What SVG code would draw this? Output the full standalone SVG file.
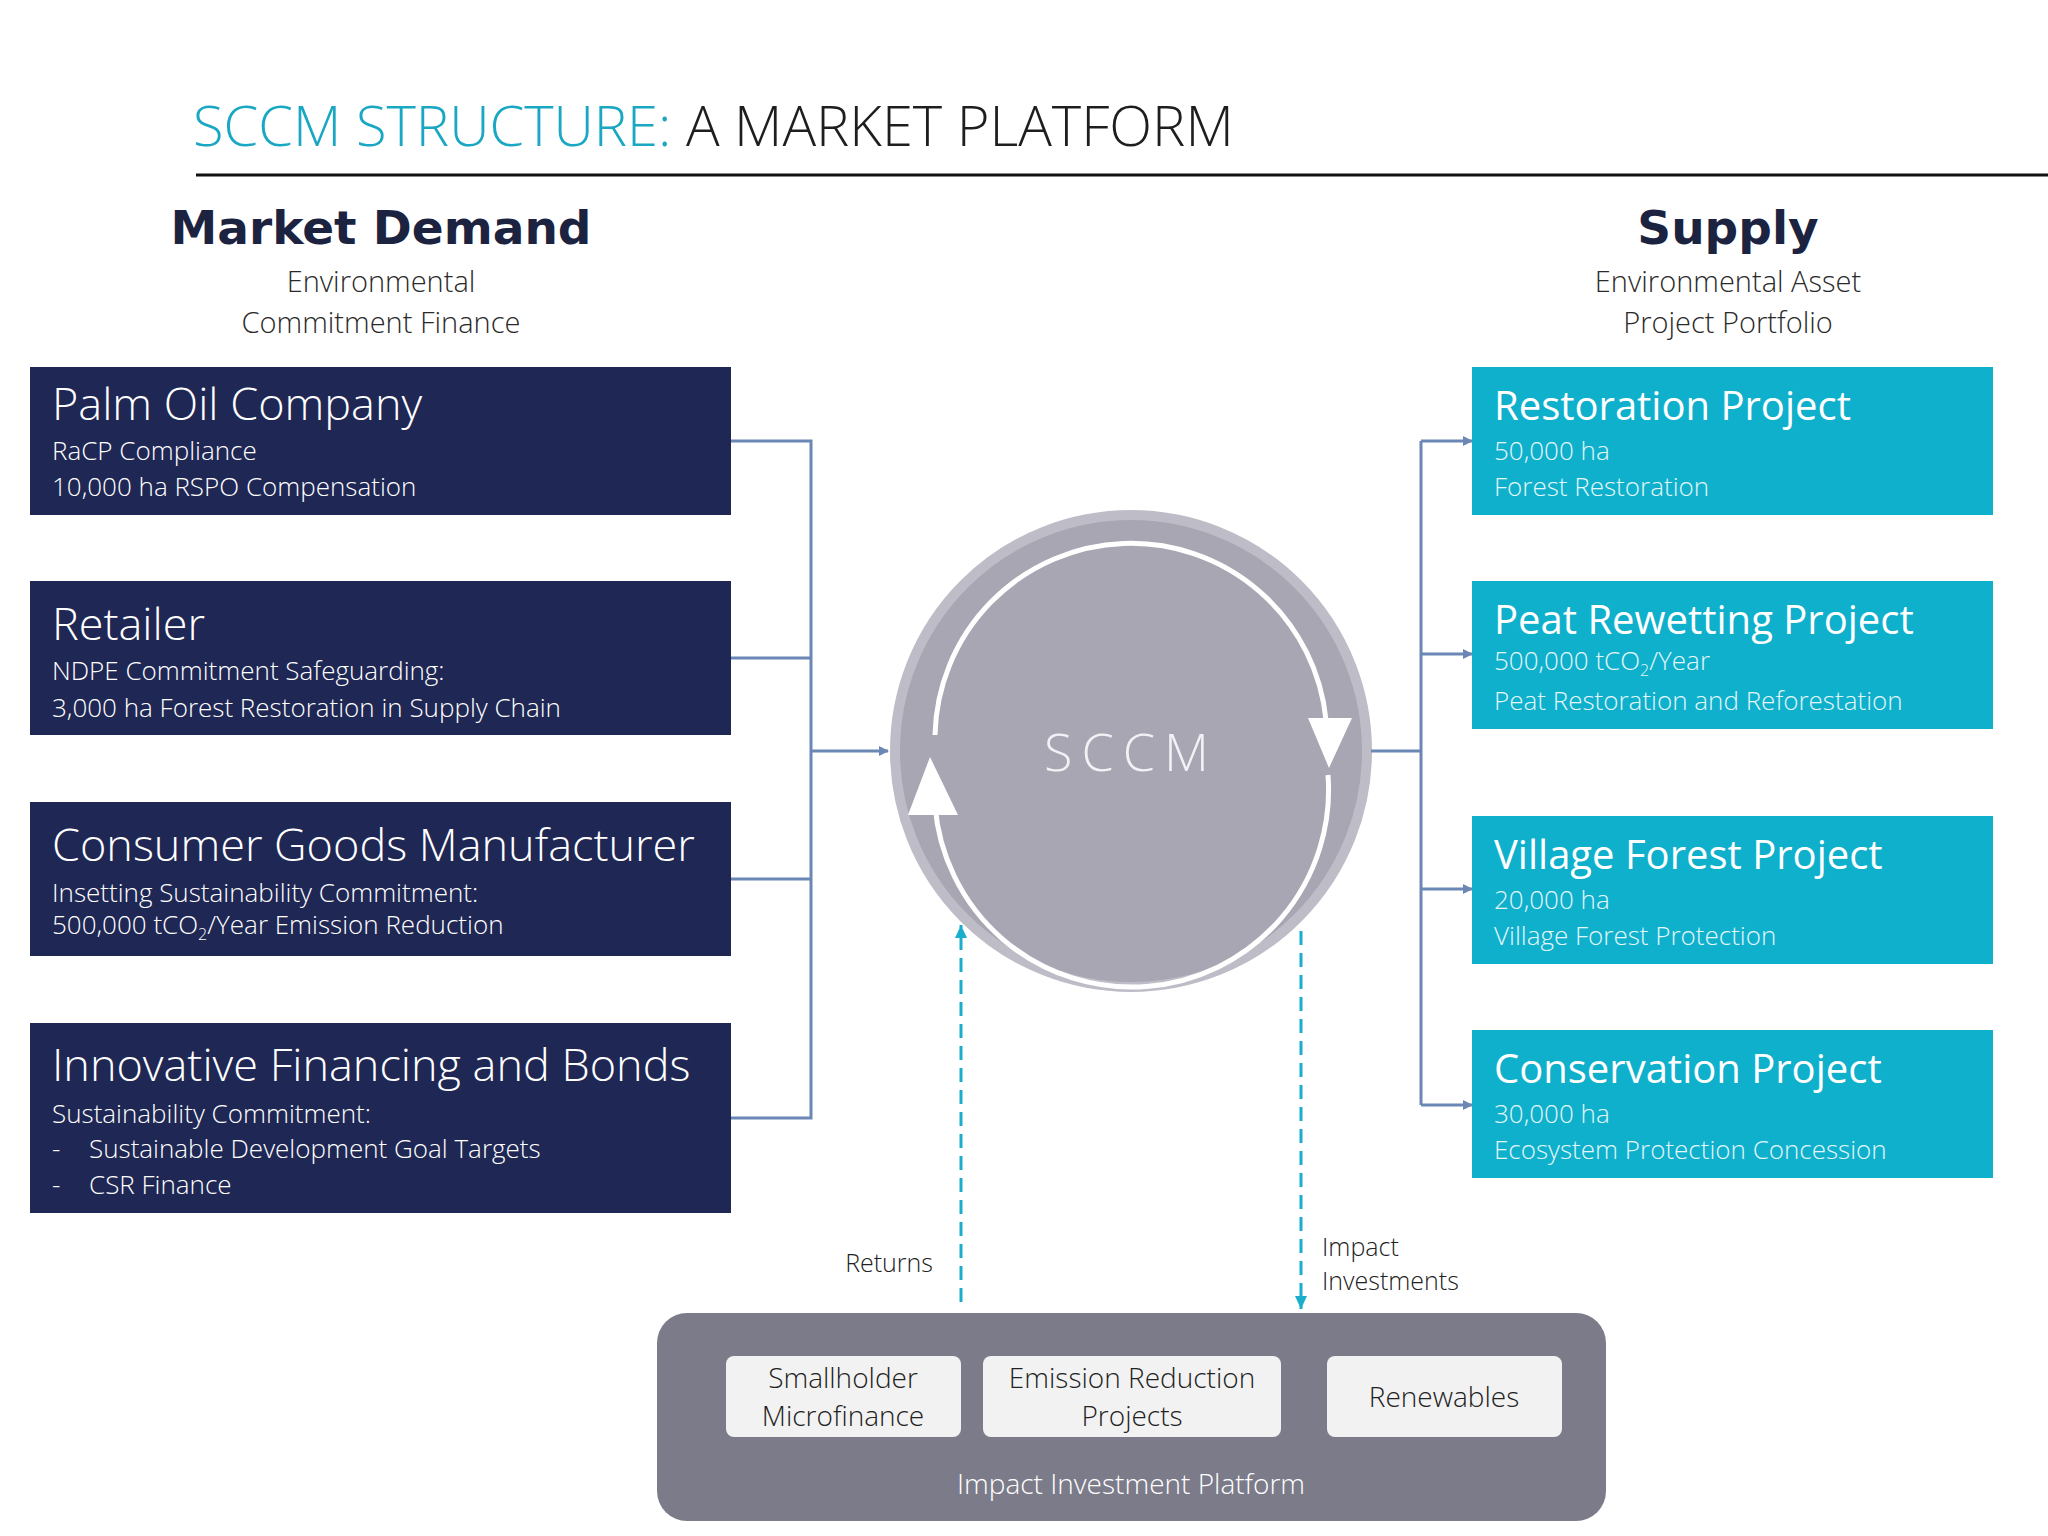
<svg xmlns="http://www.w3.org/2000/svg" width="2048" height="1536" viewBox="0 0 2048 1536">
<style>
text{font-family:"Open Sans","Liberation Sans",sans-serif;font-weight:300}
.hd{font-family:"DejaVu Sans",sans-serif;font-weight:bold;fill:#1c2340;font-size:47px;text-anchor:middle}
.sh{fill:#2a2a2a;font-size:29px;text-anchor:middle}
.lb{fill:#1f2754}
.rb{fill:#0fb0cc}
.t1{fill:#fff;font-size:45px}
.s1{fill:#fff;font-size:26px}
.t2{fill:#fff;font-size:40px;font-weight:400}
.s2{fill:#e3f6fa;font-size:26px}
.con{fill:none;stroke:#6b87b5;stroke-width:3}
.dash{fill:none;stroke:#1aaecc;stroke-width:3;stroke-dasharray:14 8}
.ib{fill:#f2f2f2}
.it{fill:#222;font-size:28px;text-anchor:middle}
.lab{fill:#222;font-size:25px}
</style>
<defs>
<marker id="ab" markerWidth="10" markerHeight="10" refX="9" refY="5" orient="auto" markerUnits="userSpaceOnUse"><path d="M0,0 L10,5 L0,10 z" fill="#6b87b5"/></marker>
<marker id="ac" markerWidth="14" markerHeight="14" refX="13" refY="7" orient="auto" markerUnits="userSpaceOnUse"><path d="M0,1 L13,7 L0,13 z" fill="#1aaecc"/></marker>
</defs>
<rect width="2048" height="1536" fill="#fff"/>
<text x="193" y="146" font-size="56"><tspan fill="#1aa7c4">SCCM STRUCTURE:</tspan><tspan fill="#1e1e1e"> A MARKET PLATFORM</tspan></text>
<line x1="196" y1="175" x2="2048" y2="175" stroke="#111" stroke-width="3"/>
<text class="hd" x="381" y="244">Market Demand</text>
<text class="sh" x="381" y="292">Environmental</text>
<text class="sh" x="381" y="333">Commitment Finance</text>
<text class="hd" x="1728" y="244">Supply</text>
<text class="sh" x="1728" y="292">Environmental Asset</text>
<text class="sh" x="1728" y="333">Project Portfolio</text>
<g id="palm"><rect class="lb" x="30" y="367" width="701" height="148"/><text class="t1" x="52" y="420">Palm Oil Company</text><text class="s1" x="52" y="460">RaCP Compliance</text><text class="s1" x="52" y="496">10,000 ha RSPO Compensation</text></g>
<g id="retailer"><rect class="lb" x="30" y="581" width="701" height="154"/><text class="t1" x="52" y="640">Retailer</text><text class="s1" x="52" y="680">NDPE Commitment Safeguarding:</text><text class="s1" x="52" y="717">3,000 ha Forest Restoration in Supply Chain</text></g>
<g id="cgm"><rect class="lb" x="30" y="802" width="701" height="154"/><text class="t1" x="52" y="861">Consumer Goods Manufacturer</text><text class="s1" x="52" y="902">Insetting Sustainability Commitment:</text><text class="s1" x="52" y="934">500,000 tCO<tspan font-size="16" dy="6">2</tspan><tspan dy="-6">/Year Emission Reduction</tspan></text></g>
<g id="ifb"><rect class="lb" x="30" y="1023" width="701" height="190"/><text class="t1" x="52" y="1081">Innovative Financing and Bonds</text><text class="s1" x="52" y="1123">Sustainability Commitment:</text><text class="s1" x="52" y="1158">-</text><text class="s1" x="89" y="1158">Sustainable Development Goal Targets</text><text class="s1" x="52" y="1194">-</text><text class="s1" x="89" y="1194">CSR Finance</text></g>
<g id="rest"><rect class="rb" x="1472" y="367" width="521" height="148"/><text class="t2" x="1494" y="420">Restoration Project</text><text class="s2" x="1494" y="460">50,000 ha</text><text class="s2" x="1494" y="496">Forest Restoration</text></g>
<g id="peat"><rect class="rb" x="1472" y="581" width="521" height="148"/><text class="t2" x="1494" y="634">Peat Rewetting Project</text><text class="s2" x="1494" y="670">500,000 tCO<tspan font-size="16" dy="6">2</tspan><tspan dy="-6">/Year</tspan></text><text class="s2" x="1494" y="710">Peat Restoration and Reforestation</text></g>
<g id="village"><rect class="rb" x="1472" y="816" width="521" height="148"/><text class="t2" x="1494" y="869">Village Forest Project</text><text class="s2" x="1494" y="909">20,000 ha</text><text class="s2" x="1494" y="945">Village Forest Protection</text></g>
<g id="cons"><rect class="rb" x="1472" y="1030" width="521" height="148"/><text class="t2" x="1494" y="1083">Conservation Project</text><text class="s2" x="1494" y="1123">30,000 ha</text><text class="s2" x="1494" y="1159">Ecosystem Protection Concession</text></g>
<g id="sccm">
<circle cx="1131" cy="751" r="236" fill="#a7a6b2" stroke="#bebdc7" stroke-width="10"/>
<path d="M935,735 A196,196 0 0 1 1326,720" fill="none" stroke="#fff" stroke-width="5"/>
<path d="M1308,718 L1352,718 L1329,768 z" fill="#fff"/>
<path d="M1328,775 A196,196 0 0 1 935,805" fill="none" stroke="#fff" stroke-width="5"/>
<path d="M908,815 L958,815 L930,757 z" fill="#fff"/>
<text x="1131" y="771" font-size="52" fill="#f2f2f6" text-anchor="middle" letter-spacing="9">SCCM</text>
</g>
<g id="connectors">
<path class="con" d="M731,441 H811 V1118 H731 M731,658 H811 M731,879 H811"/>
<path class="con" d="M811,751 H888" marker-end="url(#ab)"/>
<path class="con" d="M1371,751 H1421"/>
<path class="con" d="M1421,441 V1105"/>
<path class="con" d="M1421,441 H1472" marker-end="url(#ab)"/>
<path class="con" d="M1421,654 H1472" marker-end="url(#ab)"/>
<path class="con" d="M1421,889 H1472" marker-end="url(#ab)"/>
<path class="con" d="M1421,1105 H1472" marker-end="url(#ab)"/>
<path class="dash" d="M961,1302 V925" marker-end="url(#ac)"/>
<path class="dash" d="M1301,931 V1309" marker-end="url(#ac)"/>
</g>
<text class="lab" x="933" y="1272" text-anchor="end">Returns</text>
<text class="lab" x="1322" y="1256">Impact</text>
<text class="lab" x="1322" y="1290">Investments</text>
<g id="platform">
<rect x="657" y="1313" width="949" height="208" rx="30" fill="#7c7b8a"/>
<rect class="ib" x="726" y="1356" width="235" height="81" rx="8"/><text class="it" x="843" y="1388">Smallholder</text><text class="it" x="843" y="1426">Microfinance</text>
<rect class="ib" x="983" y="1356" width="298" height="81" rx="8"/><text class="it" x="1132" y="1388">Emission Reduction</text><text class="it" x="1132" y="1426">Projects</text>
<rect class="ib" x="1327" y="1356" width="235" height="81" rx="8"/><text class="it" x="1444" y="1407">Renewables</text>
<text x="1131" y="1494" font-size="28" fill="#fff" text-anchor="middle">Impact Investment Platform</text>
</g>
</svg>
